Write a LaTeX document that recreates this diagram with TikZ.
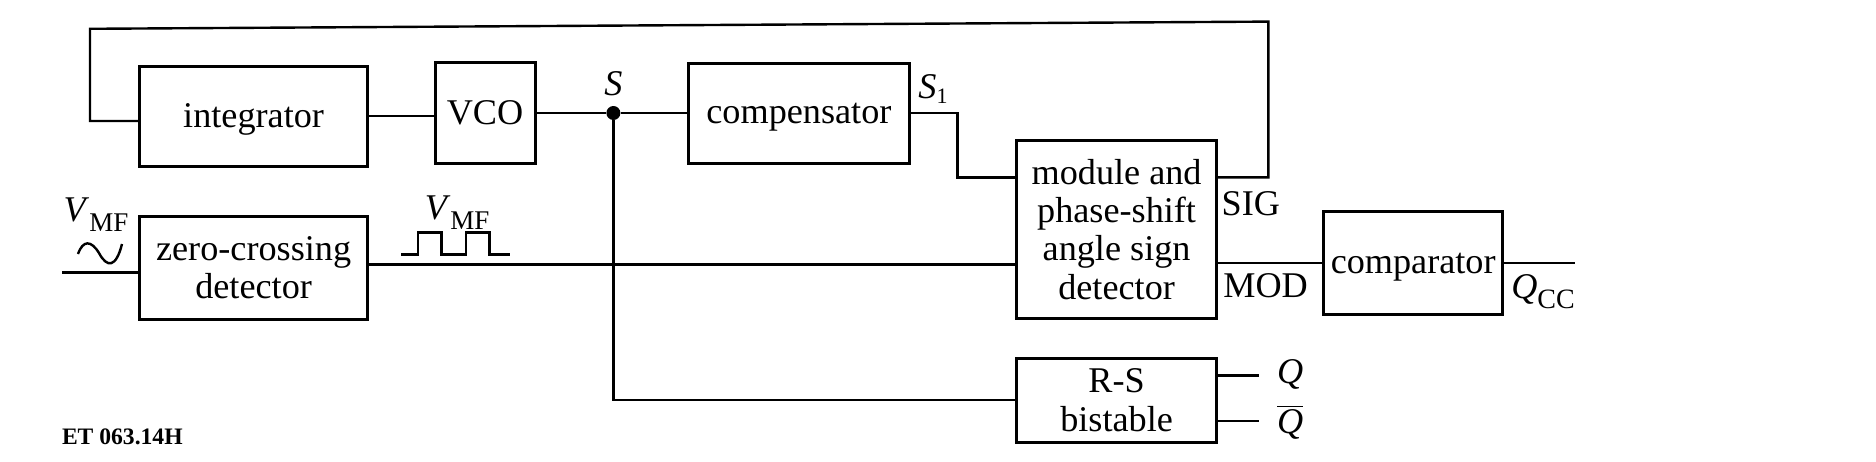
\documentclass[tikz,border=0pt]{standalone}
\usepackage{fontspec}
\setmainfont{Liberation Serif}
\usetikzlibrary{positioning}
\newcommand{\Vmf}{\textit{V}\raisebox{-0.6ex}{\fontsize{13.5}{14}\selectfont MF}}
\begin{document}
\begin{tikzpicture}[
        x=1pt, y=1pt,
        font=\fontsize{18.1}{19.2}\selectfont,
        block/.style={rectangle, draw=black, line width=1.5pt, outer sep=0pt, inner sep=0pt, align=center},
        wire/.style={line width=1.2pt},
        label/.style={inner sep=0pt, outer sep=0pt},
    ]
    \useasboundingbox (0,0) rectangle (938,-230.5);

    \node[block, text depth=0pt, minimum width=114.2pt, minimum height=50pt] (integrator) at (126.8,-58) {integrator};
    \node[block, minimum width=50pt, minimum height=50.5pt] (VCO) [right=33.6pt of integrator, yshift=1.5pt] {VCO};
    \node[circle, fill=black, inner sep=0pt, minimum size=7pt] (S) [right=35.5pt of VCO] {};
    \node[block, text depth=0pt, minimum width=110.7pt, minimum height=50pt] (compensator) [right=33.7pt of S] {compensator};
    \node[block, minimum width=114.2pt, minimum height=51.6pt] (zeroCrossing) [below=25pt of integrator] {zero-crossing\\detector};
    \node[block, minimum width=100pt, minimum height=89pt] (module) [right=53.5pt of compensator, yshift=-58.2pt] {module and\\phase-shift\\angle sign\\detector};
    \node[block, text depth=0pt, minimum width=89.6pt, minimum height=51.7pt] (comparator) [right=53.5pt of module, yshift=-16.8pt] {comparator};
    \node[block, minimum width=100pt, minimum height=42pt] (bistable) [below=19.8pt of module] {R-S\\bistable};

    \coordinate (fbRight) at (634.2,-10.8);
    \coordinate (fbLeft) at (45,-14.4);
    \coordinate (vIn) at (31.2,-136.3);
    \coordinate[right=36pt of comparator] (qccOut);
    \coordinate (qOut) at (629.4,-187.8);
    \coordinate (qbarOut) at (629.4,-210.6);

    \draw[wire] ([yshift=26pt]module.east) -| (fbRight) -- (fbLeft) |- ([yshift=-2.5pt]integrator.west);
    \draw[wire] (integrator.east) -- (integrator.east -| VCO.west);
    \draw[wire] (VCO.east) -- (S) -- (compensator.west);
    \draw[wire] (compensator.east) -- ++(24pt,0) |- ([yshift=26pt]module.west);
    \draw[wire] (S) |- (bistable.west);
    \draw[wire] (vIn) -- (vIn -| zeroCrossing.west);
    \draw[wire] ([yshift=1.5pt]zeroCrossing.east) -- ([yshift=1.5pt]zeroCrossing.east -| module.west);
    \draw[wire] (comparator.west -| module.east) -- (comparator.west);
    \draw[wire] (comparator.east) -- (qccOut);
    \draw[wire] (qOut -| bistable.east) -- (qOut);
    \draw[wire] (qbarOut -| bistable.east) -- (qbarOut);

    % input wave shapes
    \draw[wire] (39,-127) .. controls (41.5,-120) and (45.5,-120) .. (49.5,-126.5) .. controls (53.5,-134) and (58,-134) .. (61,-122);
    \draw[wire] (200.6,-127.3) -- ++(8.4,0) -- ++(0,11) -- ++(11.8,0) -- ++(0,-11) -- ++(12.2,0) -- ++(0,11) -- ++(11.8,0) -- ++(0,-11) -- ++(10.4,0);

    \node[label] (labelS) [above=5pt of S] {\textit{S}};
    \node[label] (labelSone) at (466.5,-44.5) {\textit{S}\raisebox{-0.35ex}{\fontsize{11}{12}\selectfont 1}};
    \node[label] (labelVin) at (48,-107.5) {\Vmf};
    \node[label] (labelVpulse) at (228.6,-106.5) {\Vmf};
    \node[label] (labelSIG) at (625.4,-102) {SIG};
    \node[label] (labelMOD) at (632.8,-143) {MOD};
    \node[label] (labelQcc) at (771.5,-146) {\textit{Q}\raisebox{-0.6ex}{\fontsize{14}{14}\selectfont CC}};
    \node[label] (labelQ) at (645.1,-187) {\textit{Q}};
    \node[label] (labelQbar) at (645.1,-211) {$\overline{\textit{Q}}$};
    \node[label, anchor=west, font=\fontsize{11.8}{12}\selectfont\bfseries] (code) at (31,-218.5) {ET 063.14H};
\end{tikzpicture}
\end{document}
